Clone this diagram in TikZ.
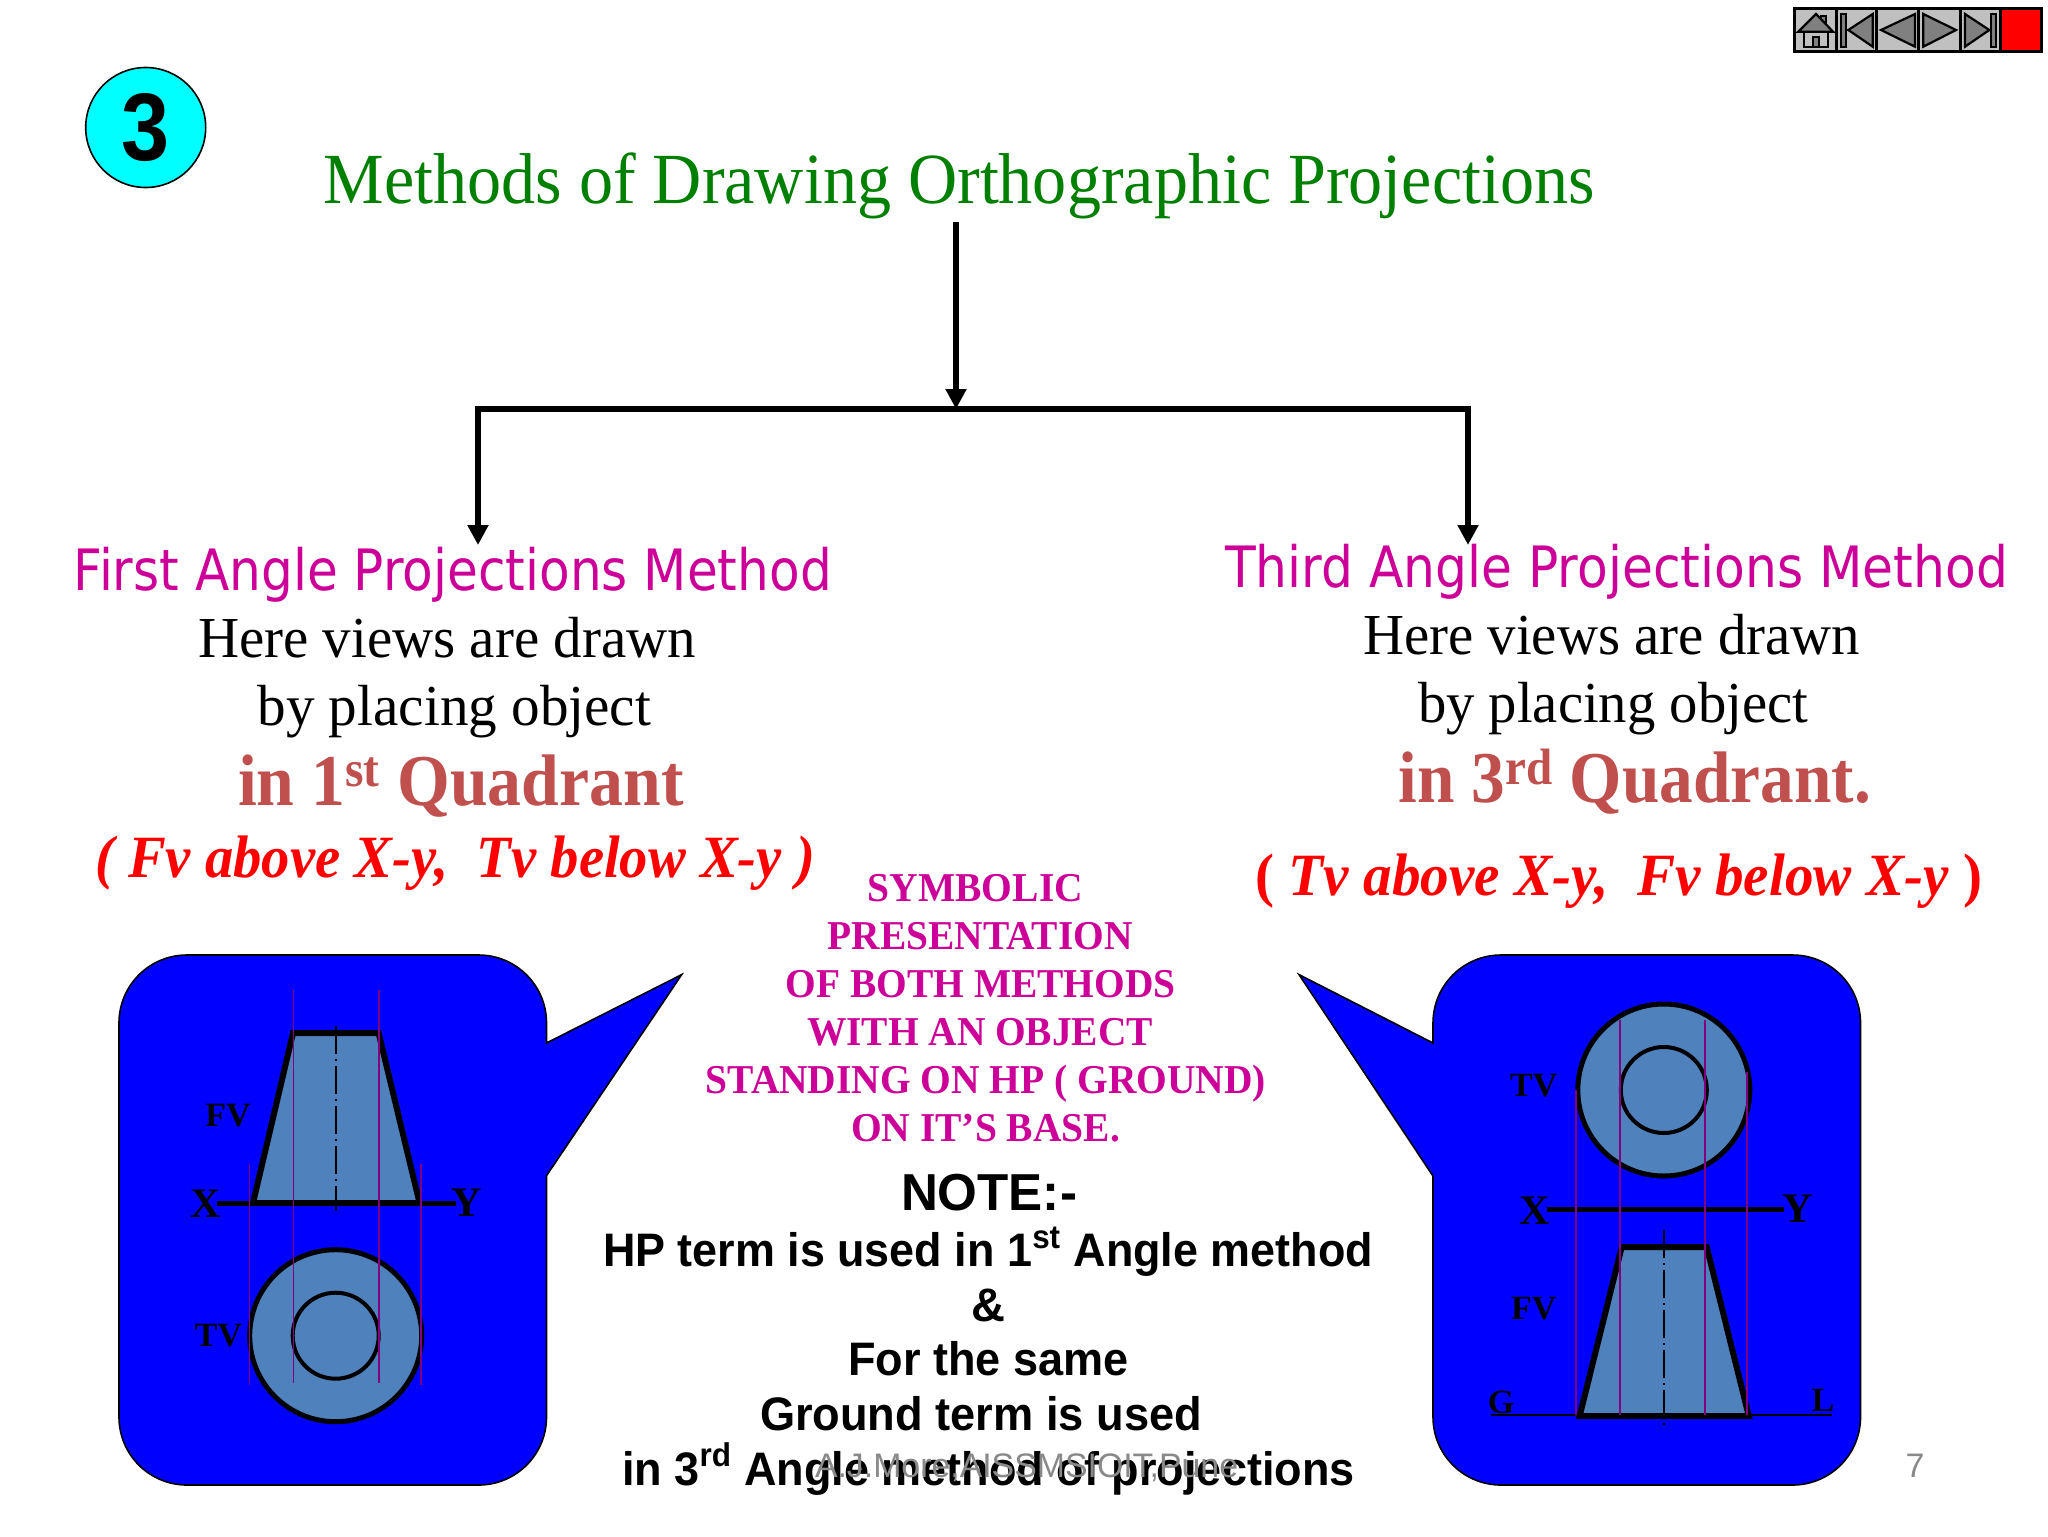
\documentclass[tikz,border=0pt]{standalone}
\usepackage{fontspec}
\usepackage{graphicx}
\setmainfont{Liberation Serif}
\setsansfont{Liberation Sans}
\newfontfamily\methodfont{DejaVu Sans}
\usetikzlibrary{arrows.meta}
\definecolor{slideblue}{RGB}{0,0,255}
\definecolor{badgecyan}{RGB}{0,255,255}
\definecolor{steel}{RGB}{79,129,189}
\definecolor{projline}{RGB}{128,0,128}
\definecolor{deepmag}{RGB}{204,0,153}
\definecolor{brick}{RGB}{192,80,77}
\definecolor{titlegreen}{RGB}{0,128,0}
\definecolor{footgray}{RGB}{137,137,137}
\definecolor{navgray}{RGB}{192,192,192}
\definecolor{navdark}{RGB}{128,128,128}
\newsavebox{\fitbox}
\newcommand\fitw[2]{\sbox{\fitbox}{#2}\pgfmathsetmacro\fitr{#1*0.5/\the\wd\fitbox}\scalebox{\fitr}[1]{\usebox{\fitbox}}}
\newcommand\fsz[1]{\fontsize{#1}{#1}\selectfont}
\tikzset{
  x=0.5pt,y=-0.5pt,
  txt/.style={inner sep=0pt,outer sep=0pt,anchor=base west},
  ctr/.style={inner sep=0pt,outer sep=0pt,anchor=base},
  titletxt/.style={txt,text=titlegreen,font=\fsz{36}},
  methodtxt/.style={txt,text=deepmag,font=\methodfont\fsz{28.5}},
  plaintxt/.style={txt,font=\fsz{29}},
  quadtxt/.style={txt,text=brick,font=\bfseries\fsz{36.5}},
  redtxt/.style={txt,text=red,font=\bfseries\itshape\fsz{30}},
  symtxt/.style={txt,text=deepmag,font=\bfseries\fsz{20.5}},
  notetxt/.style={txt,font=\sffamily\bfseries\fsz{23.5}},
  bubble/.style={draw=black,line width=0.8pt,fill=slideblue},
  solid part/.style={draw=black,line width=3pt,fill=steel,line join=miter},
  ring/.style={draw=black,line width=2.5pt,fill=steel},
  refline/.style={draw=black,line width=2.5pt},
  projection/.style={draw=projline,line width=0.8pt},
  axisline/.style={draw=black,line width=1pt,dash pattern=on 14pt off 2.5pt on 1pt off 2.5pt},
  big lbl/.style={inner sep=0pt,font=\bfseries\fsz{21}},
  small lbl/.style={inner sep=0pt,font=\bfseries\fsz{17}},
  flow/.style={draw=black,line width=3pt},
  flowarrow/.style={flow,-{Triangle[width=10pt,length=10pt]}},
  navbtn/.style={draw=black,line width=1.5pt,fill=navgray},
  navicon/.style={draw=black,line width=1.1pt,fill=navdark,line join=miter},
}
\begin{document}
\begin{tikzpicture}
\useasboundingbox (0,0) rectangle (2048,1536);
\fill[white] (0,0) rectangle (2048,1536);

% number badge
\node[circle,draw=black,line width=0.8pt,fill=badgecyan,minimum size=60pt,inner sep=0pt,font=\sffamily\bfseries\fsz{48}] (badge) at (145.7,127.5) {\scalebox{0.9}[1]{3}};

% title and headings
\node[titletxt] (title) at (323.7,203) {\fitw{1271}{Methods of Drawing Orthographic Projections}};
\node[methodtxt] (firsthead) at (73.8,590.7) {\fitw{758}{First Angle Projections Method}};
\node[plaintxt] (firsta) at (198,657) {\fitw{498}{Here views are drawn}};
\node[plaintxt] (firstb) at (257.5,725) {\fitw{393.5}{by placing object}};
\node[quadtxt] (firstq) at (238,805) {\fitw{445.7}{in 1\textsuperscript{st} Quadrant}};
\node[redtxt] (firstr) at (95,877) {\fitw{720}{( Fv above X-y,~~Tv below X-y )}};

\node[methodtxt] (thirdhead) at (1225,587.7) {\fitw{783}{Third Angle Projections Method}};
\node[plaintxt] (thirda) at (1363,654) {\fitw{497}{Here views are drawn}};
\node[plaintxt] (thirdb) at (1418,722.7) {\fitw{390}{by placing object}};
\node[quadtxt] (thirdq) at (1398.5,802.7) {\fitw{472.5}{in 3\textsuperscript{rd} Quadrant.}};
\node[redtxt] (thirdr) at (1255.6,895) {\fitw{726.4}{\textup{(} Tv above X-y,~~Fv below X-y~\textup{)}}};

% flow connectors
\coordinate (titlefoot) at (956,222);
\coordinate (junction) at (956,409);
\coordinate (barl) at (478,409);
\coordinate (barr) at (1468,409);
\coordinate (tipl) at (478,545);
\coordinate (tipr) at (1468,545);
\draw[flowarrow] (titlefoot) -- (junction);
\draw[flow,line cap=rect] (barl) -- (barr);
\draw[flowarrow] (barl) -- (tipl);
\draw[flowarrow] (barr) -- (tipr);

% centre texts
\node[symtxt] (syma) at (867.8,901.7) {\fitw{215.2}{SYMBOLIC}};
\node[symtxt] (symb) at (827.5,949) {\fitw{305.2}{PRESENTATION}};
\node[symtxt] (symc) at (785.6,997) {\fitw{389.9}{OF BOTH METHODS}};
\node[symtxt] (symd) at (807,1045) {\fitw{346}{WITH AN OBJECT}};
\node[symtxt] (syme) at (705.7,1093) {\fitw{560.3}{STANDING ON HP ( GROUND)}};
\node[symtxt] (symf) at (851,1141) {\fitw{269}{ON IT’S BASE.}};

\node[notetxt,font=\sffamily\bfseries\fsz{26}] (notea) at (901,1210.7) {\fitw{176}{NOTE:-}};
\node[notetxt] (noteb) at (603,1266.7) {\fitw{770}{HP term is used in 1\textsuperscript{st} Angle method}};
\node[notetxt,ctr] (notec) at (988,1321) {\&};
\node[notetxt] (noted) at (848,1375.7) {\fitw{280.5}{For the same}};
\node[notetxt] (notee) at (760,1430.7) {\fitw{442}{Ground term is used}};
\node[notetxt] (notef) at (622,1485) {\fitw{732.5}{in 3\textsuperscript{rd} Angle method of projections}};
\node[txt,text=footgray,font=\sffamily\fsz{17}] (mark) at (815,1477) {\fitw{423}{A.J.More,AISSMSIOIT,Pune}};
\node[ctr,text=footgray,font=\sffamily\fsz{17}] (pageno) at (1915,1477) {7};

% left bubble
\draw[bubble] (546.5,1043) -- (681.7,974.6) -- (546.5,1175.7) -- (546.5,1417)
  .. controls (546.5,1454.6) and (516.1,1485) .. (478.5,1485) -- (187,1485)
  .. controls (149.4,1485) and (119,1454.6) .. (119,1417) -- (119,1023)
  .. controls (119,985.4) and (149.4,955) .. (187,955) -- (478.5,955)
  .. controls (516.1,955) and (546.5,985.4) .. (546.5,1023) -- cycle;
\draw[solid part] (293,1033) -- (378.6,1033) -- (419.6,1203) -- (253,1203) -- cycle;
\draw[refline] (216.7,1203) -- (456,1203);
\draw[ring] (335.7,1335.7) circle[radius=86];
\draw[ring,line width=2pt] (335.7,1335.7) circle[radius=43];
\draw[axisline] (335.7,1026) -- (335.7,1211);
\draw[projection] (293.3,990) -- (293.3,1383);
\draw[projection] (379,990) -- (379,1383);
\draw[projection] (249.6,1164) -- (249.6,1385);
\draw[projection] (421,1164) -- (421,1385);
\node[small lbl] (lfv) at (228,1116) {FV};
\node[small lbl] (ltv) at (218.6,1336) {TV};
\node[big lbl] (lx) at (206,1204) {X};
\node[big lbl] (ly) at (467,1203) {Y};

% right bubble
\draw[bubble] (1433,1043) -- (1299,974.6) -- (1433,1176) -- (1433,1417)
  .. controls (1433,1454.6) and (1463.4,1485) .. (1501,1485) -- (1792.5,1485)
  .. controls (1830.1,1485) and (1860.5,1454.6) .. (1860.5,1417) -- (1860.5,1023)
  .. controls (1860.5,985.4) and (1830.1,955) .. (1792.5,955) -- (1501,955)
  .. controls (1463.4,955) and (1433,985.4) .. (1433,1023) -- cycle;
\draw[ring] (1663.8,1090) circle[radius=86];
\draw[ring,line width=2pt] (1663.8,1090) circle[radius=43];
\draw[refline] (1546.7,1209.6) -- (1784,1209.6);
\draw[black,line width=1pt] (1490.5,1415) -- (1832,1415);
\draw[solid part] (1621.7,1247) -- (1706.7,1247) -- (1748.8,1416) -- (1579.6,1416) -- cycle;
\draw[axisline] (1663.8,1230) -- (1663.8,1430);
\draw[projection] (1575.8,1090) -- (1575.8,1415);
\draw[projection] (1619.8,1020) -- (1619.8,1415);
\draw[projection] (1705,1020) -- (1705,1415);
\draw[projection] (1747,1072) -- (1747,1415);
\node[small lbl] (rtv) at (1533.7,1086) {TV};
\node[small lbl] (rfv) at (1533.7,1308.6) {FV};
\node[big lbl] (rx) at (1534.5,1211) {X};
\node[big lbl] (ry) at (1797.4,1209) {Y};
\node[small lbl] (rg) at (1501,1402.5) {G};
\node[small lbl] (rl) at (1823,1400.7) {L};

% navigation bar
\draw[navbtn] (1794.7,9) rectangle (1836.7,52);
\draw[navbtn] (1836.7,9) rectangle (1876.7,52);
\draw[navbtn] (1876.7,9) rectangle (1918,52);
\draw[navbtn] (1918,9) rectangle (1960,52);
\draw[navbtn] (1960,9) rectangle (2000,52);
\draw[navbtn,fill=red] (2000,9) rectangle (2041.7,52);
\draw[navicon] (1820.7,25) -- (1820.7,16) -- (1826,16) -- (1826,25) -- cycle;
\draw[navicon] (1816,14) -- (1833,31.7) -- (1798.3,31.7) -- cycle;
\draw[navicon,fill=navgray] (1804,31.7) rectangle (1828,46.7);
\draw[navicon] (1812.7,37.3) rectangle (1819.3,46.7);
\draw[navicon] (1840.7,14) rectangle (1846,46.7);
\draw[navicon] (1848.3,30) -- (1872.7,14) -- (1872.7,46.7) -- cycle;
\draw[navicon] (1881,30) -- (1915,14) -- (1915,46.7) -- cycle;
\draw[navicon] (1956,30) -- (1923.3,14) -- (1923.3,46.7) -- cycle;
\draw[navicon] (1989.3,30) -- (1965,14) -- (1965,46.7) -- cycle;
\draw[navicon] (1990.7,14) rectangle (1996,46.7);
\end{tikzpicture}
\end{document}
